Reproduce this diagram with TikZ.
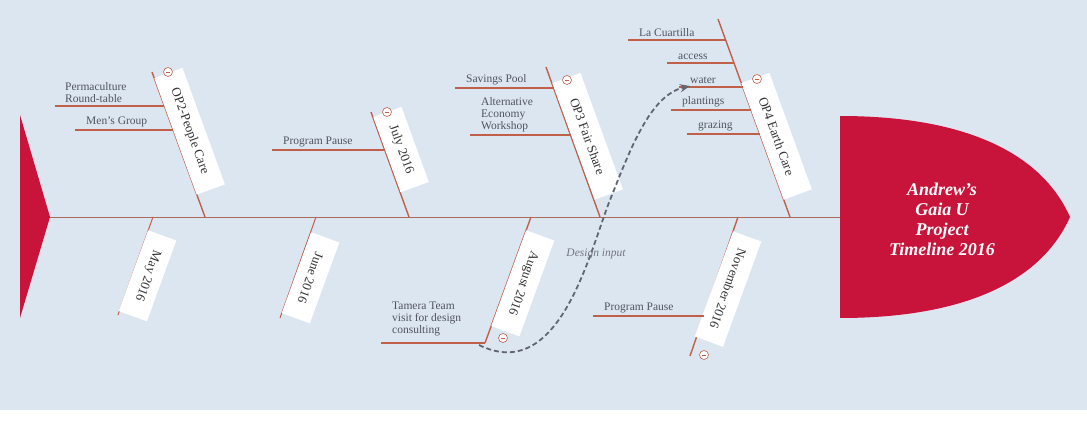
\documentclass[tikz,border=0pt]{standalone}
\usepackage{fontspec}
\setmainfont{Liberation Serif}
\usetikzlibrary{arrows.meta}
\definecolor{bg}{HTML}{DCE6F1}
\definecolor{fishred}{HTML}{C8143A}
\definecolor{bone}{HTML}{C0604A}
\definecolor{txt}{HTML}{505560}
\begin{document}
\begin{tikzpicture}[x=1pt,y=-1pt,
  bonel/.style={draw=bone,line width=1.4pt},
  sub/.style={draw=bone,line width=1.4pt},
  lab/.style={text=txt,font=\fontsize{11.5}{12}\selectfont,inner sep=1pt,align=left},
  box/.style={fill=white,minimum height=30pt,minimum width=#1,inner sep=2pt,font=\fontsize{13}{14}\selectfont,text=black!80},
  minus/.style={circle,draw=bone,fill=white,line width=0.6pt,minimum size=9pt,inner sep=0pt,
    path picture={\draw[bone,line width=0.6pt] ([xshift=-2.2pt]path picture bounding box.center)--([xshift=2.2pt]path picture bounding box.center);}}]
\useasboundingbox (0,0) rectangle (1087,425);
\fill[bg] (0,0) rectangle (1087,410);
% spine
\coordinate (s0) at (50,217); \coordinate (s1) at (840,217);
\draw[draw=bone!70!gray,line width=0.9pt] (s0) -- (s1);
% tail and head
\fill[fishred] (20,115) -- (50,217) -- (20,318) -- cycle;
\fill[fishred] (840,116) .. controls (960,116) and (1040,150) .. (1070,217) .. controls (1040,284) and (960,318) .. (840,318) -- cycle;
\node[text=white,font=\bfseries\itshape\fontsize{18}{20}\selectfont,align=center] (head) at (942,219) {Andrew's\\Gaia U\\Project\\Timeline 2016};
% ---- upper bones
\coordinate (a1) at (152,72); \coordinate (a2) at (205,217);
\draw[bonel] (a1) -- (a2);
\node[box=124pt,rotate=-70,anchor=south west] (op2) at (154,78) {OP2-People Care};
\node[minus] (m1) at (168,72) {};
\coordinate (p1) at (55,106); \coordinate (p1e) at (164,106);
\draw[sub] (p1) -- (p1e);
\node[lab,anchor=south west] (t1) at (64,104) {Permaculture\\Round-table};
\coordinate (p2) at (75,130); \coordinate (p2e) at (173,130);
\draw[sub] (p2) -- (p2e);
\node[lab,anchor=south west] (t2) at (85,128) {Men's Group};

\coordinate (b1) at (371,112); \coordinate (b2) at (409,217);
\draw[bonel] (b1) -- (b2);
\node[box=80pt,rotate=-70,anchor=south west] (jul) at (373,117) {July 2016};
\node[minus] (m2) at (387,112) {};
\coordinate (p3) at (272,150); \coordinate (p3e) at (385,150);
\draw[sub] (p3) -- (p3e);
\node[lab,anchor=south west] (t3) at (282,148) {Program Pause};

\coordinate (c1) at (546,67); \coordinate (c2) at (600,217);
\draw[bonel] (c1) -- (c2);
\node[box=124pt,rotate=-70,anchor=south west] (op3) at (552,83) {OP3 Fair Share};
\node[minus] (m3) at (567,80) {};
\coordinate (p4) at (455,88); \coordinate (p4e) at (554,88);
\draw[sub] (p4) -- (p4e);
\node[lab,anchor=south west] (t4) at (465,86) {Savings Pool};
\coordinate (p5) at (470,135); \coordinate (p5e) at (570,135);
\draw[sub] (p5) -- (p5e);
\node[lab,anchor=south west] (t5) at (480,133) {Alternative\\Economy\\Workshop};

\coordinate (d1) at (718,19); \coordinate (d2) at (790,217);
\draw[bonel] (d1) -- (d2);
\node[box=124pt,rotate=-70,anchor=south west] (op4) at (741,83) {OP4 Earth Care};
\node[minus] (m4) at (757,79) {};
\coordinate (q1) at (628,40); \coordinate (q1e) at (726,40);
\draw[sub] (q1) -- (q1e);
\node[lab,anchor=south west] (u1) at (638,38) {La Cuartilla};
\coordinate (q2) at (667,63); \coordinate (q2e) at (734,63);
\draw[sub] (q2) -- (q2e);
\node[lab,anchor=south west] (u2) at (677,61) {access};
\coordinate (q3) at (679,87); \coordinate (q3e) at (743,87);
\draw[sub] (q3) -- (q3e);
\node[lab,anchor=south west] (u3) at (689,85) {water};
\coordinate (q4) at (671,110); \coordinate (q4e) at (751,110);
\draw[sub] (q4) -- (q4e);
\node[lab,anchor=south west] (u4) at (681,108) {plantings};
\coordinate (q5) at (687,134); \coordinate (q5e) at (760,134);
\draw[sub] (q5) -- (q5e);
\node[lab,anchor=south west] (u5) at (697,132) {grazing};
% ---- lower bones
\coordinate (e1) at (153,217); \coordinate (e2) at (118,315);
\draw[draw=bone,line width=1pt] (e1) -- (e2);
\node[box=86pt,rotate=-110,anchor=south west] (may) at (148,230) {May 2016};

\coordinate (f1) at (316,217); \coordinate (f2) at (280,318);
\draw[draw=bone,line width=1pt] (f1) -- (f2);
\node[box=86pt,rotate=-110,anchor=south west] (jun) at (311,232) {June 2016};

\coordinate (g1) at (531,217); \coordinate (g2) at (485,343);
\draw[draw=bone,line width=1.4pt] (g1) -- (g2);
\node[box=102pt,rotate=-110,anchor=south west] (aug) at (526,230) {August 2016};
\node[minus] (m5) at (503,338) {};
\coordinate (r1) at (381,343); \coordinate (r1e) at (485,343);
\draw[sub] (r1) -- (r1e);
\node[lab,anchor=south west] (v1) at (391,337) {Tamera Team\\visit for design\\consulting};

\coordinate (h1) at (738,217); \coordinate (h2) at (690,356);
\draw[draw=bone,line width=1.4pt] (h1) -- (h2);
\node[box=112pt,rotate=-110,anchor=south west] (nov) at (733,231) {November 2016};
\node[minus] (m6) at (704,355) {};
\coordinate (r2) at (593,316); \coordinate (r2e) at (704,316);
\draw[sub] (r2) -- (r2e);
\node[lab,anchor=south west] (v2) at (603,314) {Program Pause};
% dashed relation
\coordinate (ds) at (479,345); \coordinate (de) at (690,86);
\draw[draw=txt!90,line width=1.8pt,dash pattern=on 5pt off 3pt,-{Stealth[length=10pt,width=8pt]}]
  (ds) .. controls (560,385) and (590,250) .. (610,200) .. controls (630,150) and (650,95) .. (de);
\node[text=txt!80,font=\itshape\fontsize{11.5}{12}\selectfont] (di) at (596,254) {Design input};
\end{tikzpicture}
\end{document}
